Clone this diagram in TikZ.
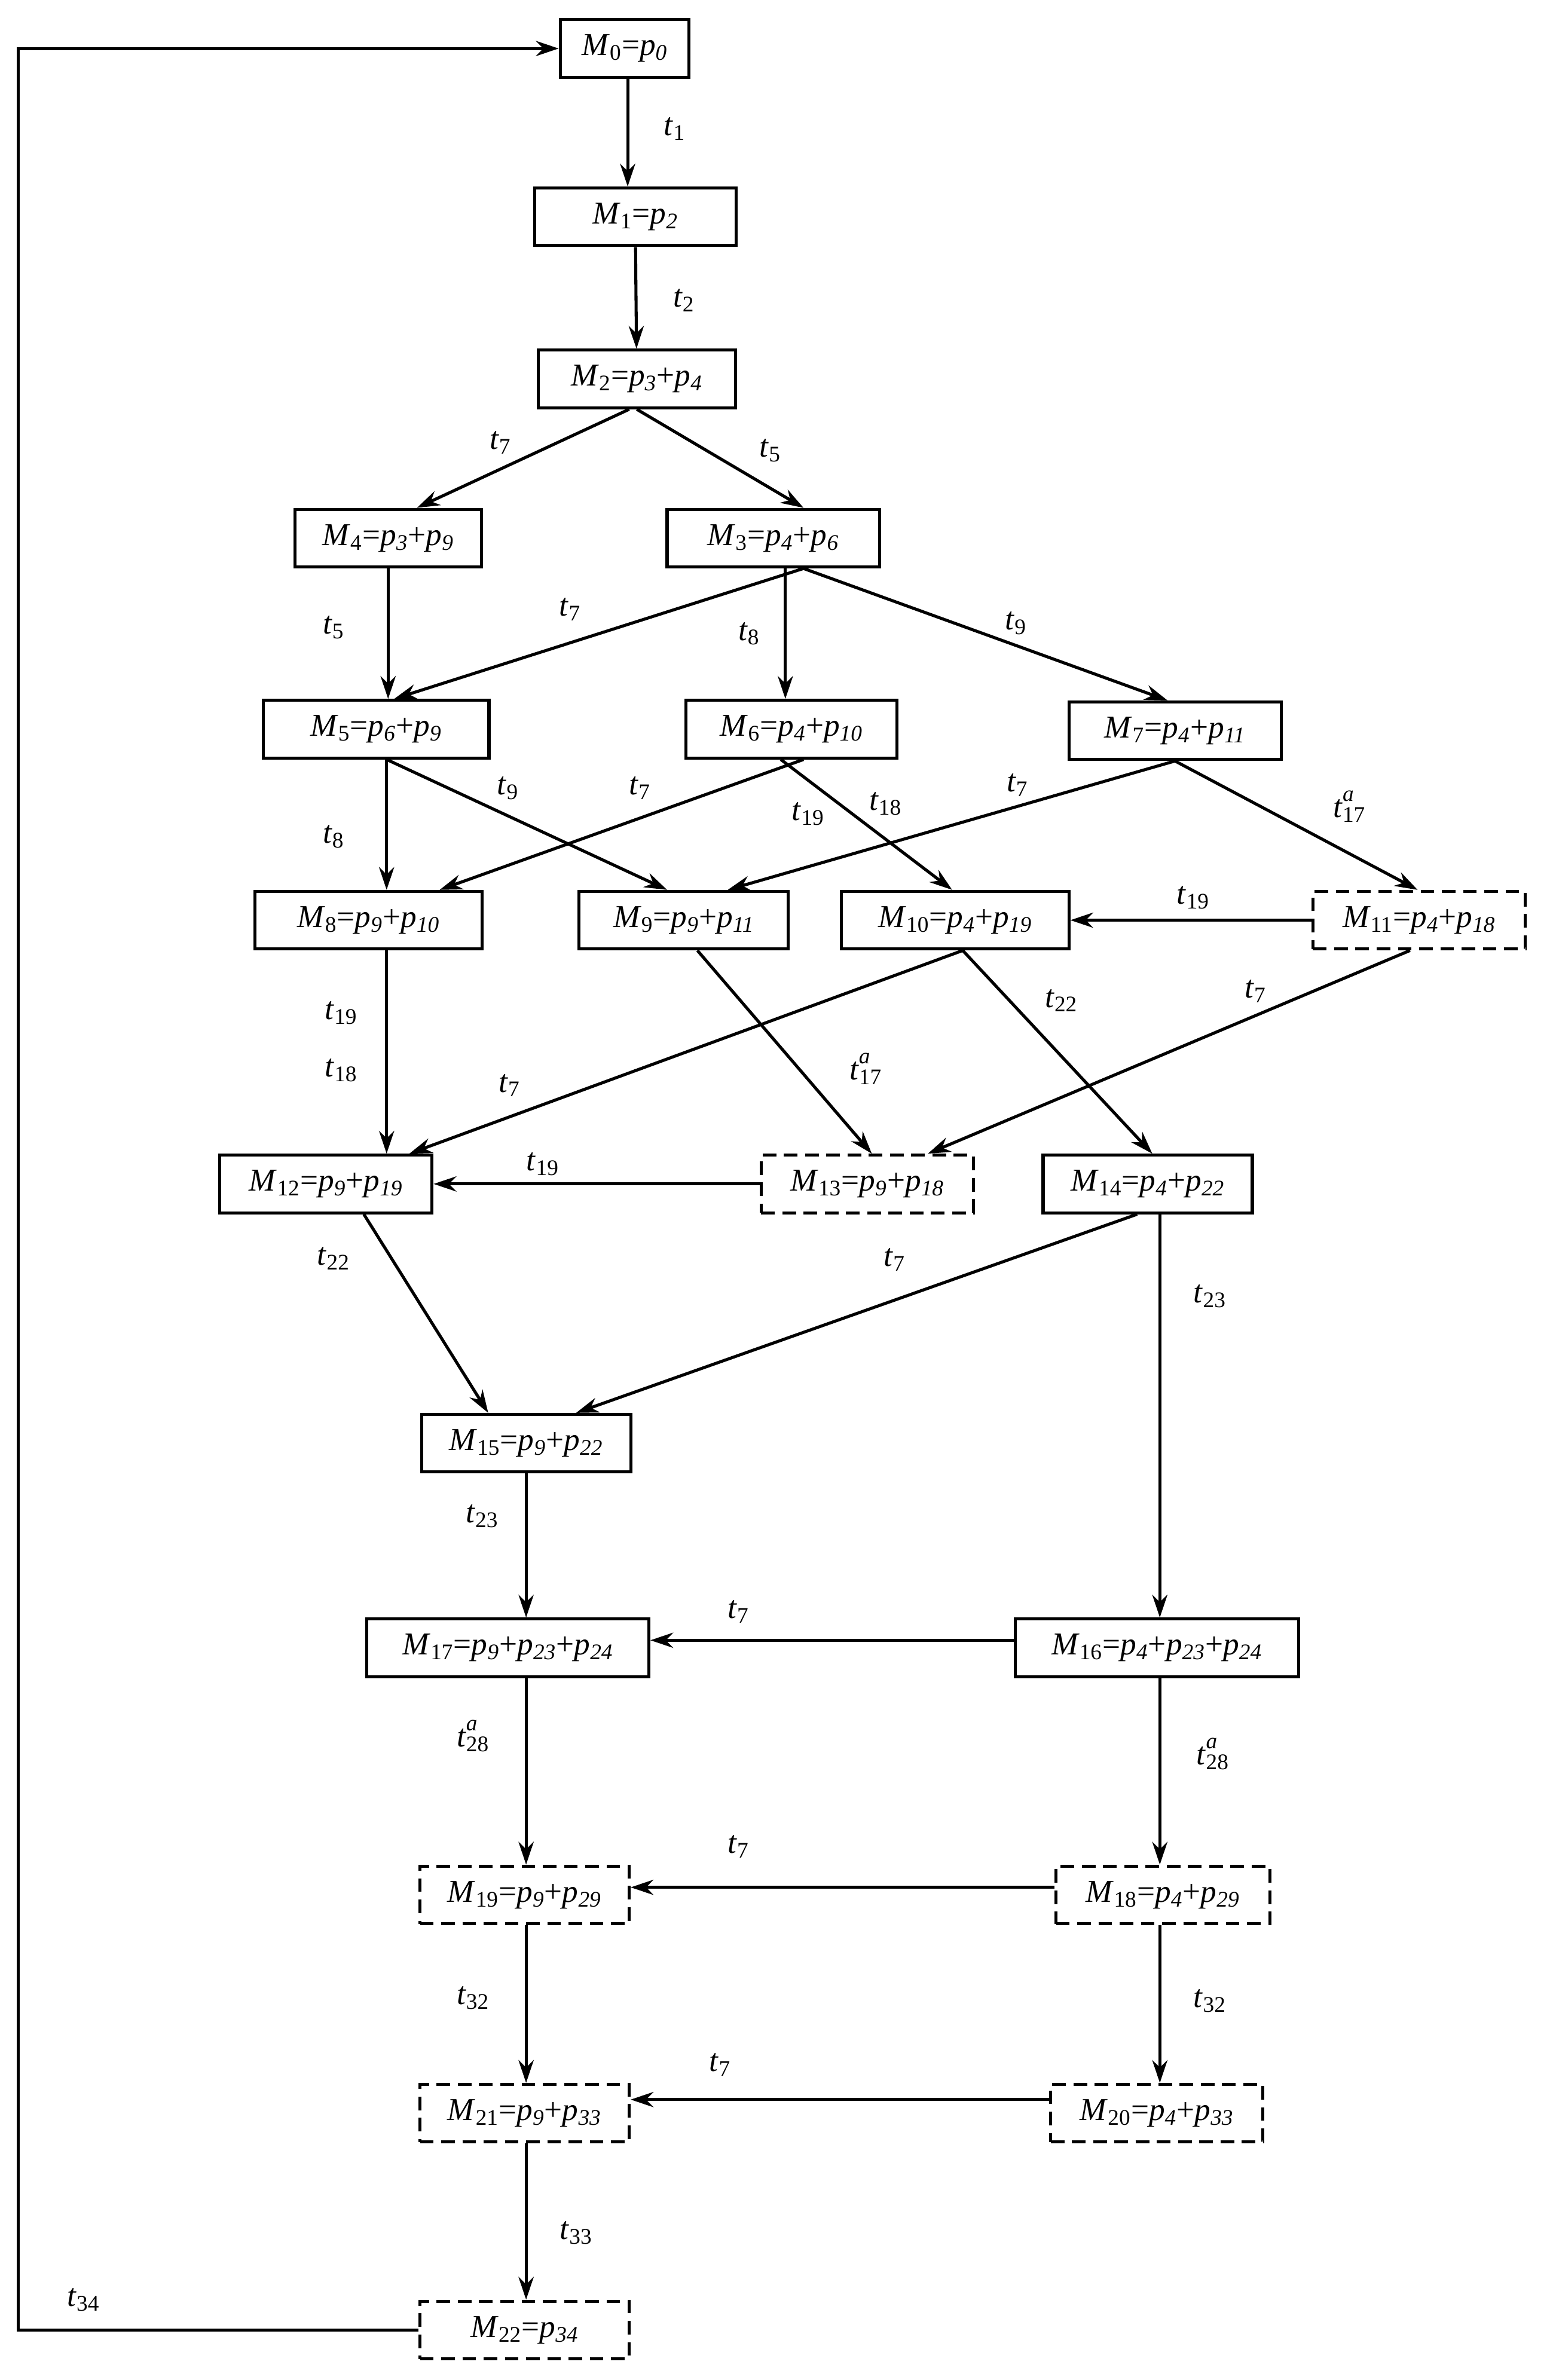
\documentclass[tikz,border=0pt]{standalone}
\usepackage{fontspec}
\setmainfont{Liberation Serif}
\usetikzlibrary{arrows.meta}
\newcommand{\Mk}[1]{\textit{M}\textsubscript{#1}}
\newcommand{\Pk}[1]{\textit{p}\textsubscript{\textit{#1}}}
\newcommand{\Tk}[1]{\textit{t}\textsubscript{#1}}
\newcommand{\Ta}[1]{\textit{t}\rlap{\raisebox{0.15em}{\textsuperscript{\textit{a}}}}\textsubscript{#1}}
\begin{document}
\begin{tikzpicture}[x=1pt,y=-1pt,
  every node/.style={font=\fontsize{21}{24}\selectfont},
  box/.style={draw,line width=2pt,minimum height=38pt,inner sep=2pt},
  dbox/.style={box,dash pattern=on 9pt off 5pt},
  e/.style={line width=2pt,-{Stealth[length=15pt,width=10pt]}},
  lb/.style={inner sep=0pt}]
\useasboundingbox (0,0) rectangle (1024,1570);
\node[box,minimum width=85pt] (M0) at (412,32) {\Mk{0}=\Pk{0}};
\node[box,minimum width=133pt] (M1) at (419,143) {\Mk{1}=\Pk{2}};
\node[box,minimum width=130pt] (M2) at (420,250) {\Mk{2}=\Pk{3}+\Pk{4}};
\node[box,minimum width=123pt] (M4) at (256,355) {\Mk{4}=\Pk{3}+\Pk{9}};
\node[box,minimum width=140pt] (M3) at (510,355) {\Mk{3}=\Pk{4}+\Pk{6}};
\node[box,minimum width=149pt] (M5) at (248,481) {\Mk{5}=\Pk{6}+\Pk{9}};
\node[box,minimum width=139pt] (M6) at (522,481) {\Mk{6}=\Pk{4}+\Pk{10}};
\node[box,minimum width=140pt] (M7) at (775,482) {\Mk{7}=\Pk{4}+\Pk{11}};
\node[box,minimum width=150pt] (M8) at (243,607) {\Mk{8}=\Pk{9}+\Pk{10}};
\node[box,minimum width=138pt] (M9) at (451,607) {\Mk{9}=\Pk{9}+\Pk{11}};
\node[box,minimum width=150pt] (M10) at (630,607) {\Mk{10}=\Pk{4}+\Pk{19}};
\node[dbox,minimum width=140pt] (M11) at (936,607) {\Mk{11}=\Pk{4}+\Pk{18}};
\node[box,minimum width=140pt] (M12) at (215,781) {\Mk{12}=\Pk{9}+\Pk{19}};
\node[dbox,minimum width=140pt] (M13) at (572,781) {\Mk{13}=\Pk{9}+\Pk{18}};
\node[box,minimum width=138pt] (M14) at (757,781) {\Mk{14}=\Pk{4}+\Pk{22}};
\node[box,minimum width=138pt] (M15) at (347,952) {\Mk{15}=\Pk{9}+\Pk{22}};
\node[box,minimum width=186pt] (M17) at (335,1087) {\Mk{17}=\Pk{9}+\Pk{23}+\Pk{24}};
\node[box,minimum width=187pt] (M16) at (763,1087) {\Mk{16}=\Pk{4}+\Pk{23}+\Pk{24}};
\node[dbox,minimum width=138pt] (M19) at (346,1250) {\Mk{19}=\Pk{9}+\Pk{29}};
\node[dbox,minimum width=141pt] (M18) at (767,1250) {\Mk{18}=\Pk{4}+\Pk{29}};
\node[dbox,minimum width=138pt] (M21) at (346,1394) {\Mk{21}=\Pk{9}+\Pk{33}};
\node[dbox,minimum width=140pt] (M20) at (763,1394) {\Mk{20}=\Pk{4}+\Pk{33}};
\node[dbox,minimum width=138pt] (M22) at (346,1537) {\Mk{22}=\Pk{34}};
\coordinate (c1) at (12,1537);
\coordinate (c2) at (12,32);
% edges
\draw[e] (M0.south -| 414,0) -- (M1.north -| 414,0);
\draw[e] (M1) -- (M2);
\draw[e] (M2.south) ++(-5,0) -- (M4.north -| 275,0);
\draw[e] (M2.south) -- (M3.north -| 530,0);
\draw[e] (M4) -- (M4 |- M5.north);
\draw[e] (M3.south -| 530,0) -- (M5.north -| 260,0);
\draw[e] (M3.south -| 518,0) -- (M6.north -| 518,0);
\draw[e] (M3.south -| 530,0) -- (M7.north -| 770,0);
\draw[e] (M5.south -| 255,0) -- (M8.north -| 255,0);
\draw[e] (M5.south -| 255,0) -- (M9.north -| 440,0);
\draw[e] (M6.south -| 530,0) -- (M8.north -| 290,0);
\draw[e] (M6.south -| 515,0) -- (M10.north -| 628,0);
\draw[e] (M7.south) -- (M9.north -| 480,0);
\draw[e] (M7.south) -- (M11.north -| 935,0);
\draw[e] (M11) -- (M10);
\draw[e] (M8.south -| 255,0) -- (M12.north -| 255,0);
\draw[e] (M9.south -| 460,0) -- (M13.north -| 575,0);
\draw[e] (M10.south -| 635,0) -- (M12.north -| 270,0);
\draw[e] (M10.south -| 635,0) -- (M14.north -| 760,0);
\draw[e] (M11.south -| 930,0) -- (M13.north -| 612,0);
\draw[e] (M13) -- (M12);
\draw[e] (M12.south -| 240,0) -- (M15.north -| 322,0);
\draw[e] (M14.south -| 750,0) -- (M15.north -| 380,0);
\draw[e] (M14.south -| 765,0) -- (M16.north -| 765,0);
\draw[e] (M15.south -| 347,0) -- (M17.north -| 347,0);
\draw[e] (M16.west |- 0,1082) -- (M17.east |- 0,1082);
\draw[e] (M17.south -| 347,0) -- (M19.north -| 347,0);
\draw[e] (M16.south -| 765,0) -- (M18.north -| 765,0);
\draw[e] (M18.west |- 0,1245) -- (M19.east |- 0,1245);
\draw[e] (M19.south -| 347,0) -- (M21.north -| 347,0);
\draw[e] (M18.south -| 765,0) -- (M20.north -| 765,0);
\draw[e] (M20.west |- 0,1385) -- (M21.east |- 0,1385);
\draw[e] (M21.south -| 347,0) -- (M22.north -| 347,0);
\draw[e] (M22.west) -- (c1) -- (c2) -- (M0.west);
% labels
\node[lb] at (445,85) {\Tk{1}};
\node[lb] at (451,198) {\Tk{2}};
\node[lb] at (330,292) {\Tk{7}};
\node[lb] at (508,297) {\Tk{5}};
\node[lb] at (220,414) {\Tk{5}};
\node[lb] at (376,402) {\Tk{7}};
\node[lb] at (494,418) {\Tk{8}};
\node[lb] at (670,411) {\Tk{9}};
\node[lb] at (335,520) {\Tk{9}};
\node[lb] at (422,520) {\Tk{7}};
\node[lb] at (220,552) {\Tk{8}};
\node[lb] at (533,537) {\Tk{19}};
\node[lb] at (584,530) {\Tk{18}};
\node[lb] at (671,518) {\Tk{7}};
\node[lb] at (890,532) {\Ta{17}};
\node[lb] at (787,592) {\Tk{19}};
\node[lb] at (225,668) {\Tk{19}};
\node[lb] at (225,706) {\Tk{18}};
\node[lb] at (336,716) {\Tk{7}};
\node[lb] at (571,705) {\Ta{17}};
\node[lb] at (700,660) {\Tk{22}};
\node[lb] at (828,654) {\Tk{7}};
\node[lb] at (358,768) {\Tk{19}};
\node[lb] at (220,830) {\Tk{22}};
\node[lb] at (590,831) {\Tk{7}};
\node[lb] at (798,855) {\Tk{23}};
\node[lb] at (318,1000) {\Tk{23}};
\node[lb] at (487,1063) {\Tk{7}};
\node[lb] at (312,1145) {\Ta{28}};
\node[lb] at (800,1157) {\Ta{28}};
\node[lb] at (487,1218) {\Tk{7}};
\node[lb] at (312,1318) {\Tk{32}};
\node[lb] at (798,1320) {\Tk{32}};
\node[lb] at (475,1362) {\Tk{7}};
\node[lb] at (380,1473) {\Tk{33}};
\node[lb] at (55,1517) {\Tk{34}};
\end{tikzpicture}
\end{document}
